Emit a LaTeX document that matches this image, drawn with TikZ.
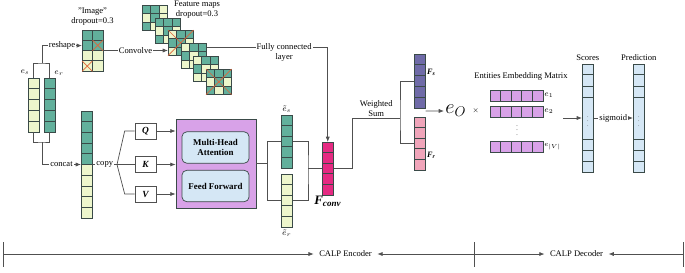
\documentclass[tikz,border=0pt]{standalone}
\usepackage{fontspec}
\setmainfont{Liberation Serif}
\usetikzlibrary{arrows.meta, positioning, calc}
\definecolor{calpteal}{HTML}{62B09C}
\definecolor{calplight}{HTML}{EDF6CC}
\definecolor{calpmag}{HTML}{E52A82}
\definecolor{calpfs}{HTML}{6F6BA8}
\definecolor{calpfr}{HTML}{F0A5BA}
\definecolor{calplilac}{HTML}{D8A2E8}
\definecolor{calpsky}{HTML}{D5E7F5}
\definecolor{calpdark}{HTML}{3A4A48}
\definecolor{calpline}{HTML}{505050}
\definecolor{calpred}{HTML}{E0663A}
\colorlet{ct}{calpteal}
\colorlet{cl}{calplight}
\tikzset{
  colbox/.style={rectangle, draw=calpdark, line width=0.6pt, minimum width=0.345cm, inner sep=0pt, outer sep=0pt},
  rowbox/.style={rectangle, draw=calpdark, line width=0.6pt, minimum height=0.33cm, inner sep=0pt, outer sep=0pt},
  cellline/.style={draw=calpdark, line width=0.6pt},
  gridframe/.style={rectangle, draw=calpdark, line width=0.7pt, inner sep=0pt, outer sep=0pt},
  xmark/.style={draw=calpred, line width=0.6pt},
  conn/.style={draw=calpline, line width=0.6pt},
  arr/.style={conn, -{Latex[length=4.5pt, width=3.5pt]}},
  qkv/.style={rectangle, draw=calpline, line width=0.6pt, minimum width=0.63cm, minimum height=0.48cm,
    inner sep=0pt, font=\bfseries\itshape\fontsize{8}{9}\selectfont, fill=white},
  block/.style={rectangle, draw=calpdark, line width=0.7pt, fill=calplilac, minimum width=2.4cm,
    minimum height=2.67cm, inner sep=0pt},
  sub/.style={rectangle, rounded corners=4pt, draw=calpdark, line width=0.6pt, fill=calpsky,
    minimum width=2.01cm, minimum height=0.94cm, align=center, font=\bfseries\fontsize{7.6}{9}\selectfont},
  lbl/.style={inner sep=1pt, align=center},
  onl/.style={fill=white, inner sep=1pt},
  flbl/.style={inner sep=0pt, font=\bfseries\itshape\fontsize{7}{8}\selectfont},
}

% vertical vector: name, x, y, cells, cell height, colour
\newcommand{\cellcol}[6]{%
  \node[colbox, fill=#6, minimum height={#4*#5*0.03cm}, anchor=north west] (#1) at (#2,#3) {};
  \pgfmathtruncatemacro\nsep{#4-1}
  \foreach \i in {1,...,\nsep} \draw[cellline] (#1.north west) ++(0,\i*#5) -- ++(11.5,0);
}
% horizontal vector: name, x, y, cells, cell width, colour
\newcommand{\cellrow}[6]{%
  \node[rowbox, fill=#6, minimum width={#4*#5*0.03cm}, anchor=north west] (#1) at (#2,#3) {};
  \pgfmathtruncatemacro\nsep{#4-1}
  \foreach \i in {1,...,\nsep} \draw[cellline] (#1.north west) ++(\i*#5,0) -- ++(0,11);
}
% grid: name, x, y, cols, rows, cell w, cell h, colours
\newcommand{\cellgrid}[8]{%
  \foreach \c [count=\gk from 0] in {#8} {
    \pgfmathtruncatemacro\gcol{mod(\gk,#4)}
    \pgfmathtruncatemacro\grow{int(\gk/#4)}
    \draw[cellline, fill=\c] (#2+\gcol*#6, #3+\grow*#7) rectangle ++(#6,#7);
  }
  \node[gridframe, minimum width={#4*#6*0.03cm}, minimum height={#5*#7*0.03cm}, anchor=north west] (#1) at (#2,#3) {};
}

\begin{document}
\begin{tikzpicture}[x=0.03cm, y=-0.03cm, font=\fontsize{7.3}{8.5}\selectfont]
  \path[use as bounding box, fill=white] (0,0) rectangle (685,272);

  % input embeddings
  \cellcol{es}{28}{78}{5}{10.8}{calplight}
  \cellcol{er}{44}{78}{5}{10.8}{calpteal}
  \node[lbl] (eslbl) at (25,72) {$e_s$};
  \node[lbl] (erlbl) at (59,73) {$e_r$};
  \coordinate (jtop) at (42,63);
  \coordinate (jbot) at (42,142);
  \draw[conn] (es.north) |- (jtop) -| (er.north);
  \draw[conn] (es.south) |- (jbot) -| (er.south);

  % convolution branch
  \cellgrid{img}{82}{30}{2}{4}{10.5}{10.25}{ct,ct,ct,ct,cl,cl,cl,cl}
  \draw[xmark] (92.5,40.25) -- ++(10.5,10.25) (103,40.25) -- ++(-10.5,10.25);
  \draw[xmark] (82,61) -- ++(10.5,10.25) (92.5,61) -- ++(-10.5,10.25);
  \node[lbl, above=3pt of img] (imglbl) {"Image"\\dropout=0.3};
  \draw[arr] (jtop) |- node[pos=0.75, onl] {reshape} ([yshift=4.2pt]img.west);

  \cellgrid{fm1}{142}{5}{3}{3}{8.5}{8.5}{ct,ct,cl,cl,ct,cl,ct,cl,ct}
  \cellgrid{fm2}{155}{18}{3}{3}{8.5}{8.5}{ct,ct,ct,cl,ct,cl,ct,cl,cl}
  \cellgrid{fm3}{168}{30}{3}{3}{8.5}{8.5}{cl,ct,ct,ct,ct,cl,cl,ct,cl}
  \draw[xmark] (fm3.north west) -- (fm3.south east) (fm3.north east) -- (fm3.south west);
  \cellgrid{fm4}{181}{43}{3}{3}{8.5}{8.5}{cl,ct,ct,ct,cl,ct,cl,cl,ct}
  \cellgrid{fm5}{193}{56}{3}{3}{8.5}{8.5}{cl,ct,ct,ct,cl,cl,cl,cl,ct}
  \cellgrid{fm6}{206}{69}{3}{3}{8.5}{8.5}{ct,ct,ct,cl,ct,cl,ct,cl,ct}
  \draw[xmark] (fm6.north west) -- (fm6.south east) (fm6.north east) -- (fm6.south west);
  \node[lbl] (fmlbl) at (197,10) {Feature maps\\dropout=0.3};
  \draw[arr] (img.east) -- node[onl] {Convolve} (img.east -| fm3.west);

  % transformer branch
  \cellcol{catT}{81}{111}{5}{10.7}{calpteal}
  \cellcol{catB}{81}{164.5}{5}{10.7}{calplight}
  \draw[arr] (jbot) |- node[pos=0.75, onl] {concat} (catT.south west);
  \coordinate (split) at (117,164.5);
  \draw[conn] (catT.south east) -- node[onl] {copy} (split);

  \node[qkv] (q) at (145.5,131) {Q};
  \node[qkv] (k) at (145.5,164.5) {K};
  \node[qkv] (v) at (145.5,194) {V};
  \node[block] (trf) at (216,163.5) {};
  \node[sub] (mha) at (215.5,147.5) {Multi-Head\\Attention};
  \node[sub] (ff) at (215.5,186) {Feed Forward};
  \draw[conn] (split) -- ([xshift=-8.5pt]q.west) -- (q.west);
  \draw[conn] (split) -- (k.west);
  \draw[conn] (split) -- ([xshift=-8.5pt]v.west) -- (v.west);
  \foreach \n in {q,k,v} \draw[arr] (\n.east) -- (\n.east -| trf.west);

  \cellcol{esT}{281}{115}{5}{10.6}{calpteal}
  \cellcol{erT}{281}{174}{5}{10.6}{calplight}
  \node[lbl, above=1pt of esT] {$\tilde{e}_s$};
  \node[lbl, below=1pt of erT] {$\tilde{e}_r$};
  \draw[conn] (trf.east) -- ++(11,0) coordinate (tj);
  \draw[conn] (esT.west) -| (tj) |- (erT.west);

  % fusion
  \cellcol{fconv}{322}{142}{5}{10.6}{calpmag}
  \node[below=1pt of fconv, inner sep=0pt, font=\bfseries\itshape\fontsize{11}{12}\selectfont] (fclbl) {F\textsubscript{conv}};
  \coordinate (ej) at (308,168.5);
  \draw[conn] (esT.east) -| (ej) |- (erT.east);
  \draw[conn] (ej) -- (fconv.west);
  \draw[arr] ([yshift=-3.4pt]fm4.north east) -| node[pos=0.32, onl] (fc) {Fully connected} (fconv.north);
  \node[lbl, below=0pt of fc] {layer};

  \cellcol{fs}{414}{54}{5}{10.8}{calpfs}
  \cellcol{fr}{414}{117}{5}{10.6}{calpfr}
  \node[flbl, anchor=west] (fslbl) at (427,72) {F\textsubscript{s}};
  \node[flbl, anchor=west] (frlbl) at (427,155) {F\textsubscript{r}};
  \coordinate (wj) at (400,118);
  \draw[conn] (fconv.east) -- ++(19,0) |- node[pos=0.75, above, lbl] {Weighted\\Sum} (wj);
  \draw[conn] (fs.west) -| (wj) |- (fr.west);

  \node[font=\fontsize{18}{18}\selectfont, inner sep=1pt, anchor=west] (eo) at (444,111) {$e_O$};
  \draw[arr] ([yshift=-2.5pt]fs.south east) -- (eo.west);
  \node[right=4pt of eo, inner sep=0pt, font=\fontsize{6}{6}\selectfont] (times) {$\times$};

  % decoder
  \node[lbl] (emlbl) at (521,76) {Entities Embedding Matrix};
  \cellrow{ent1}{490}{90}{5}{10.6}{calplilac}
  \cellrow{ent2}{490}{106}{5}{10.6}{calplilac}
  \cellrow{entV}{490}{141.5}{5}{10.6}{calplilac}
  \node[right=1pt of ent1, inner sep=0pt] {$e_1$};
  \node[right=1pt of ent2, inner sep=0pt] {$e_2$};
  \node[right=1pt of entV, inner sep=0pt, font=\fontsize{6}{7}\selectfont] {$e_{|V|}$};
  \node[inner sep=0pt, font=\tiny] (edots) at (517,127) {$\vdots$};

  \node[colbox, fill=calpsky, minimum height=108*0.03cm, anchor=north west] (sc) at (582,64) {};
  \node[colbox, fill=calpsky, minimum height=108*0.03cm, anchor=north west] (pr) at (633,64) {};
  \foreach \b in {sc,pr} {
    \foreach \d in {10.7,22,33,75,86,97} \draw[cellline] (\b.north west) ++(0,\d) -- ++(11.5,0);
    \node[inner sep=0pt, font=\tiny, text=calpline] at (\b.center) {$\vdots$};
  }
  \node[lbl, above=2pt of sc] {Scores};
  \node[lbl, above=2pt of pr] {Prediction};
  \coordinate (mx) at (563,118);
  \draw[arr] (mx) -- (sc.west);
  \draw[arr] (sc.east) -- node[onl] {sigmoid} (pr.west);

  % encoder / decoder span
  \coordinate (tl) at (3,254);
  \coordinate (tm) at (474,254);
  \coordinate (tr) at (683,254);
  \node[inner sep=4.5pt] (enc) at (345.5,254) {CALP Encoder};
  \node[inner sep=4.5pt] (dec) at (576.5,254) {CALP Decoder};
  \draw[arr] (tl) -- (enc.west);
  \draw[arr] (tm) -- (enc.east);
  \draw[arr] (tm) -- (dec.west);
  \draw[arr] (tr) -- (dec.east);
  \foreach \t in {tl,tm,tr} \draw[conn] (\t) ++(0,-12) -- ++(0,25);
\end{tikzpicture}
\end{document}
